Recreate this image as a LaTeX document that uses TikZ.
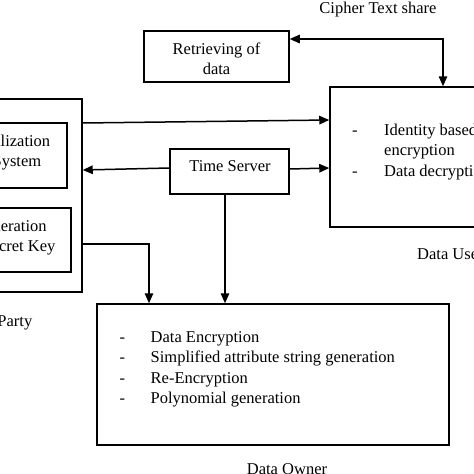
\documentclass[tikz,border=0pt]{standalone}
\usepackage{fontspec}
\setmainfont{Liberation Serif}
\usetikzlibrary{arrows.meta}
\begin{document}
\begin{tikzpicture}[x=1pt,y=-1pt,
  box/.style={draw, line width=1.5pt, inner sep=0pt},
  txt/.style={inner sep=0pt, font=\fontsize{16.5}{20.3}\selectfont},
  arr/.style={line width=1.5pt, -{Triangle[length=10pt,width=8.5pt]}},
  darr/.style={line width=1.5pt, {Triangle[length=10pt,width=8.5pt]}-{Triangle[length=10pt,width=8.5pt]}}
]
\useasboundingbox (0,0) rectangle (474,474);
\clip (0,0) rectangle (474,474);
\fill[white] (0,0) rectangle (474,474);

% boxes
\node[box, minimum width=142pt, minimum height=193pt] (tp) at (11,195.5) {};
\node[box, minimum width=118pt, minimum height=65pt] (init) at (8,155.5) {};
\node[box, minimum width=122pt, minimum height=64pt] (gen) at (10,240) {};
\node[box, minimum width=145pt, minimum height=51pt] (retr) at (216.5,56.5) {};
\node[box, minimum width=119pt, minimum height=45pt] (ts) at (229.5,171.5) {};
\node[box, minimum width=190pt, minimum height=140pt] (du) at (425,157) {};
\node[box, minimum width=352pt, minimum height=141pt] (do) at (273,374.5) {};

% box texts
\node[txt, align=center] (initt) at (8,152.4) {Initialization\\of System};
\node[txt, align=center] (gent) at (10,238) {Generation\\of Secret Key};
\node[txt, align=center] (retrt) at (216.5,59) {Retrieving of\\data};
\node[txt] (tst) at (230,166) {Time Server};
\node[txt, align=left, anchor=north west] (dut) at (352,124)
  {\makebox[32pt][l]{-}Identity based\\\makebox[32pt][l]{}encryption\\\makebox[32pt][l]{-}Data decryption};
\node[txt, align=left, anchor=north west] (dot) at (119.5,331.3)
  {\makebox[31pt][l]{-}Data Encryption\\\makebox[31pt][l]{-}Simplified attribute string generation\\\makebox[31pt][l]{-}Re-Encryption\\\makebox[31pt][l]{-}Polynomial generation};

% labels
\node[txt, anchor=base] (cts) at (378,13) {Cipher Text share};
\node[txt, anchor=base east] (tpl) at (32.5,326.7) {Trusted Party};
\node[txt, anchor=base west] (dul) at (417,259) {Data User};
\node[txt, anchor=base] (dol) at (287,474) {Data Owner};

% connectors
\draw[arr] (tp.east |- 0,123) -- (du.west |- 0,120);
\draw[arr] (ts.west |- 0,168) -- (tp.east |- 0,170);
\draw[arr] (ts.east |- 0,169) -- (du.west |- 0,168);
\draw[arr] (ts.south -| 225,0) -- (do.north -| 225,0);
\draw[arr] (tp.east |- 0,244) -| (do.north -| 149,0);
\draw[darr] (retr.east |- 0,39) -| (du.north -| 443,0);
\end{tikzpicture}
\end{document}
